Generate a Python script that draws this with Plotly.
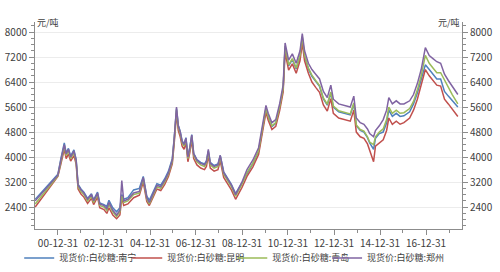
import plotly.graph_objects as go

dates = [
    "2000-01-04", "2000-12-29", "2001-02-15", "2001-04-10", "2001-05-10", "2001-06-15", "2001-07-20",
    "2001-09-10", "2001-10-15", "2001-11-15", "2001-12-31", "2002-02-15", "2002-04-15", "2002-06-15",
    "2002-07-20", "2002-09-20", "2002-10-25", "2002-12-31", "2003-02-15", "2003-03-20", "2003-05-20",
    "2003-07-20", "2003-09-10", "2003-10-10", "2003-11-10", "2004-01-15", "2004-04-15", "2004-07-15",
    "2004-09-15", "2004-11-10", "2004-12-20", "2005-02-20", "2005-04-20", "2005-06-20", "2005-08-20",
    "2005-10-20", "2005-12-20", "2006-01-20", "2006-02-25", "2006-03-25", "2006-04-25", "2006-05-25",
    "2006-06-25", "2006-07-25", "2006-08-25", "2006-09-25", "2006-10-25", "2006-11-25", "2007-01-15",
    "2007-03-15", "2007-05-15", "2007-06-15", "2007-07-15", "2007-08-15", "2007-10-15", "2007-12-15",
    "2008-01-20", "2008-03-15", "2008-05-15", "2008-07-15", "2008-09-20", "2008-11-15", "2008-12-31",
    "2009-03-20", "2009-06-20", "2009-09-20", "2009-11-20", "2010-01-15", "2010-02-20", "2010-04-20",
    "2010-06-20", "2010-08-20", "2010-10-15", "2010-11-15", "2011-01-10", "2011-03-10", "2011-05-10",
    "2011-07-10", "2011-08-15", "2011-09-20", "2011-11-20", "2012-01-15", "2012-03-15", "2012-05-15",
    "2012-07-15", "2012-09-15", "2012-11-10", "2012-12-20", "2013-03-15", "2013-06-15", "2013-09-15",
    "2013-11-10", "2013-12-20", "2014-02-20", "2014-04-20", "2014-06-15", "2014-07-20", "2014-09-20",
    "2014-10-20", "2014-12-20", "2015-02-20", "2015-04-15", "2015-05-20", "2015-07-15", "2015-09-15",
    "2015-11-15", "2016-01-15", "2016-04-15", "2016-06-15", "2016-08-15", "2016-10-15", "2016-12-20",
    "2017-02-20", "2017-04-20", "2017-06-20", "2017-08-20", "2017-10-20", "2017-12-20", "2018-02-20",
    "2018-05-20",
]

zhengzhou = [
    2600, 3420, 3900, 4400, 4100, 4250, 4000, 4200, 3900, 3100, 2950, 2850, 2650, 2800,
    2600, 2850, 2500, 2450, 2350, 2550, 2300, 2150, 2300, 3250, 2600, 2650, 2850, 2900,
    3350, 2700, 2550, 2850, 3100, 3050, 3250, 3500, 3900, 4600, 5600, 5000, 4800, 4500,
    4400, 4600, 4000, 4300, 4700, 4100, 3900, 3800, 3750, 3850, 4250, 3800, 3700, 3750,
    4050, 3500, 3300, 3100, 2800, 3000, 3200, 3600, 3900, 4300, 5000, 5650, 5400, 5100,
    5200, 5700, 6300, 7650, 7100, 7300, 7000, 7400, 7950, 7400, 7000, 6800, 6650, 6500,
    6100, 5900, 6300, 5850, 5700, 5650, 5600, 5950, 5250, 5100, 5050, 4900, 4750, 4650,
    4850, 5000, 5200, 5500, 5900, 5700, 5800, 5700, 5700, 5800, 6000, 6350, 6800, 7500,
    7250, 7150, 7050, 7000, 6650, 6450, 6250, 6000,
]

nanning = [
    2650, 3450, 3950, 4450, 4130, 4280, 4030, 4230, 3930, 3130, 2980, 2880, 2680, 2830,
    2630, 2880, 2530, 2480, 2420, 2620, 2380, 2250, 2380, 2800, 2650, 2700, 2950, 3000,
    3380, 2750, 2620, 2900, 3150, 3100, 3300, 3550, 3950, 4620, 5550, 5020, 4820, 4520,
    4420, 4620, 4020, 4320, 4720, 4120, 3920, 3830, 3780, 3880, 4200, 3830, 3730, 3780,
    4050, 3530, 3330, 3130, 2830, 3030, 3180, 3480, 3780, 4180, 4880, 5530, 5280, 4980,
    5080, 5580, 6180, 7500, 6920, 7120, 6820, 7220, 7800, 7220, 6820, 6580, 6420, 6260,
    5860, 5660, 6050, 5600, 5450, 5400, 5350, 5700, 5000, 4850, 4800, 4620, 4450, 4250,
    4600, 4750, 4800, 5100, 5500, 5300, 5400, 5300, 5320, 5450, 5700, 6050, 6450, 6950,
    6800, 6650, 6500, 6500, 6100, 5950, 5800, 5600,
]

kunming = [
    2400, 3380, 3780, 4250, 3950, 4100, 3870, 4050, 3780, 2980, 2820, 2720, 2520, 2680,
    2480, 2720, 2380, 2320, 2200, 2380, 2150, 2030, 2150, 2700, 2450, 2500, 2700, 2780,
    3200, 2580, 2450, 2720, 2980, 2930, 3120, 3380, 3780, 4450, 5400, 4850, 4650, 4350,
    4250, 4450, 3850, 4150, 4550, 3950, 3750, 3650, 3600, 3700, 4050, 3650, 3550, 3600,
    3880, 3350, 3150, 2950, 2650, 2850, 3030, 3380, 3680, 4080, 4780, 5430, 5180, 4880,
    4980, 5480, 6080, 7350, 6780, 6980, 6680, 7080, 7650, 7080, 6680, 6400, 6230, 6070,
    5670, 5470, 5870, 5400, 5250, 5200, 5150, 5500, 4800, 4650, 4600, 4420, 4200, 3850,
    4350, 4450, 4550, 4850, 5250, 5050, 5150, 5050, 5100, 5250, 5500, 5850, 6300, 6800,
    6600, 6450, 6300, 6270, 5850, 5700, 5550, 5300,
]

qingdao = [
    2500, 3400, 3850, 4350, 4050, 4200, 3950, 4150, 3850, 3050, 2900, 2800, 2600, 2750,
    2550, 2800, 2450, 2400, 2300, 2480, 2250, 2100, 2250, 2750, 2550, 2600, 2800, 2850,
    3300, 2650, 2500, 2800, 3050, 3000, 3200, 3450, 3850, 4550, 5500, 4950, 4750, 4450,
    4350, 4550, 3950, 4250, 4650, 4050, 3850, 3750, 3700, 3800, 4150, 3750, 3650, 3700,
    3980, 3450, 3250, 3050, 2750, 2950, 3130, 3500, 3800, 4200, 4900, 5550, 5300, 5000,
    5100, 5600, 6200, 7550, 6950, 7150, 6850, 7250, 7850, 7250, 6850, 6620, 6450, 6290,
    5890, 5690, 6080, 5630, 5480, 5430, 5380, 5730, 5030, 4880, 4830, 4650, 4480, 4400,
    4650, 4800, 4900, 5200, 5600, 5400, 5500, 5400, 5420, 5550, 5780, 6150, 6600, 7250,
    7000, 6850, 6700, 6700, 6450, 6250, 6000, 5700,
]

series_names = ["现货价:白砂糖:南宁", "现货价:白砂糖:昆明", "现货价:白砂糖:青岛", "现货价:白砂糖:郑州"]
series_values = [nanning, kunming, qingdao, zhengzhou]
series_colors = ["#4f81bd", "#c0504d", "#9bbb59", "#8064a2"]

x_tick_vals = ["2000-12-31", "2002-12-31", "2004-12-31", "2006-12-31", "2008-12-31",
               "2010-12-31", "2012-12-31", "2014-12-31", "2016-12-31"]
x_tick_text = ["00-12-31", "02-12-31", "04-12-31", "06-12-31", "08-12-31",
               "10-12-31", "12-12-31", "14-12-31", "16-12-31"]
x_minor_vals = ["2001-12-31", "2003-12-31", "2005-12-31", "2007-12-31", "2009-12-31",
                "2011-12-31", "2013-12-31", "2015-12-31", "2017-12-31"]
y_tick_vals = [2400, 3200, 4000, 4800, 5600, 6400, 7200, 8000]
unit_label = "元/吨"

FONT = "Noto Sans CJK SC, Microsoft YaHei, sans-serif"
AX = "#8c8c8c"

legend_ids = ["legend", "legend2", "legend3", "legend4"]
legend_x = [-0.037, 0.216, 0.462, 0.684]

fig = go.Figure()
for i, (name, vals, col) in enumerate(zip(series_names, series_values, series_colors)):
    fig.add_trace(go.Scatter(
        x=dates, y=vals, name=name, mode="lines",
        line=dict(color=col, width=1.5),
        yaxis="y2" if i == 3 else "y",
        legend=legend_ids[i],
    ))

yrange = [1700, 8320]
yaxis_common = dict(
    range=yrange, tickvals=y_tick_vals, ticks="outside", ticklen=5, tickcolor=AX,
    showline=True, linecolor=AX, linewidth=1, zeroline=False,
    tickfont=dict(size=10, color="#404040", family=FONT),
    minor=dict(dtick=200, ticks="outside", ticklen=3, tickcolor=AX, showgrid=False),
)

legend_layout = {}
for lid, lx in zip(legend_ids, legend_x):
    legend_layout[lid] = dict(
        orientation="h", x=lx, xanchor="left", y=-0.14, yanchor="middle",
        font=dict(size=9, color="#404040", family=FONT),
        itemwidth=30, bgcolor="rgba(0,0,0,0)",
    )

fig.update_layout(
    width=500, height=272,
    margin=dict(l=35, r=38, t=22, b=43, autoexpand=False),
    paper_bgcolor="white", plot_bgcolor="white",
    font=dict(family=FONT, size=10, color="#404040"),
    xaxis=dict(
        type="date", range=["2000-01-01", "2018-07-25"],
        tickvals=x_tick_vals, ticktext=x_tick_text,
        ticks="outside", ticklen=5, tickcolor=AX,
        showline=True, linecolor=AX, linewidth=1, showgrid=False, zeroline=False,
        tickfont=dict(size=10, color="#404040", family=FONT),
        minor=dict(tickvals=x_minor_vals, ticks="outside", ticklen=3, tickcolor=AX, showgrid=False),
    ),
    yaxis=dict(**yaxis_common, showgrid=True, gridcolor="#ececec", gridwidth=1),
    yaxis2=dict(**yaxis_common, overlaying="y", side="right", showgrid=False),
    showlegend=True,
    annotations=[
        dict(text=unit_label, xref="paper", yref="paper", x=0, y=1.0, xanchor="left",
             yanchor="middle", showarrow=False, font=dict(size=9, color="#404040", family=FONT)),
        dict(text=unit_label, xref="paper", yref="paper", x=1, y=1.0, xanchor="right",
             yanchor="middle", showarrow=False, font=dict(size=9, color="#404040", family=FONT)),
    ],
    **legend_layout,
)

fig.write_html("out.html")
